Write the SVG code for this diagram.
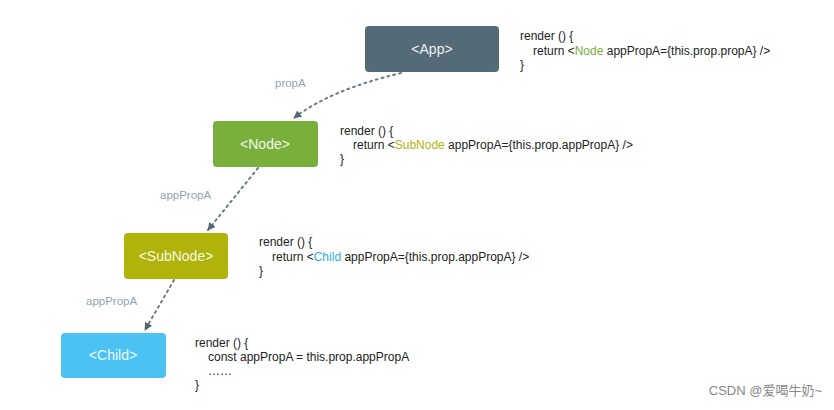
<svg xmlns="http://www.w3.org/2000/svg" width="834" height="410" viewBox="0 0 834 410">
<style>
.box{stroke:none}
.lbl{font-family:"Liberation Sans",Arial,sans-serif;font-size:14px;fill:#fff;text-anchor:middle;opacity:.9}
.code{font-family:"Liberation Sans",Arial,sans-serif;font-size:12px;fill:#222}
.edge{font-family:"Liberation Sans",Arial,sans-serif;font-size:11.5px;fill:#8fa5b3}
.con{fill:none;stroke:#6b7c88;stroke-width:2;stroke-dasharray:2 4;stroke-linecap:round}
</style>
<defs><marker id="ah" viewBox="0 0 10 10" refX="9" refY="5" markerWidth="4" markerHeight="4" orient="auto"><path d="M0,0L10,5L0,10z" fill="#55656f"/></marker></defs>
<rect width="834" height="410" fill="#fff"/>
<g id="connectors">
<path class="con" d="M401,73 Q330,90 294,118" marker-end="url(#ah)"/>
<path class="con" d="M258,168 L208,230" marker-end="url(#ah)"/>
<path class="con" d="M174,280 L145,330" marker-end="url(#ah)"/>
<text class="edge" x="275" y="87">propA</text>
<text class="edge" x="160" y="199">appPropA</text>
<text class="edge" x="86" y="305">appPropA</text>
</g>
<g id="app"><rect class="box" x="365" y="26" width="134" height="46" rx="4" fill="#546b77"/><text class="lbl" x="432" y="54">&lt;App&gt;</text></g>
<g id="node"><rect class="box" x="213" y="121" width="105" height="46" rx="4" fill="#79b03c"/><text class="lbl" x="265" y="149">&lt;Node&gt;</text></g>
<g id="subnode"><rect class="box" x="124" y="233" width="104" height="46" rx="4" fill="#b0b40a"/><text class="lbl" x="176" y="261">&lt;SubNode&gt;</text></g>
<g id="child"><rect class="box" x="61" y="333" width="105" height="45" rx="4" fill="#4cc2f3"/><text class="lbl" x="113" y="360">&lt;Child&gt;</text></g>
<g id="code-app" class="code"><text x="520" y="40">render () {</text><text x="533" y="55">return &lt;<tspan fill="#79b03c">Node</tspan> appPropA={this.prop.propA} /&gt;</text><text x="520" y="69">}</text></g>
<g id="code-node" class="code"><text x="340" y="135">render () {</text><text x="353" y="149">return &lt;<tspan fill="#b0b40a">SubNode</tspan> appPropA={this.prop.appPropA} /&gt;</text><text x="340" y="163">}</text></g>
<g id="code-sub" class="code"><text x="259" y="246">render () {</text><text x="272" y="261">return &lt;<tspan fill="#33a9dd">Child</tspan> appPropA={this.prop.appPropA} /&gt;</text><text x="259" y="275">}</text></g>
<g id="code-child" class="code"><text x="195" y="347">render () {</text><text x="208" y="361">const appPropA = this.prop.appPropA</text><text x="208" y="375">……</text><text x="195" y="389">}</text></g>
<text x="822" y="395" text-anchor="end" font-family="'Liberation Sans','Noto Sans CJK SC',sans-serif" font-size="13" fill="#888">CSDN @爱喝牛奶~</text>
</svg>
